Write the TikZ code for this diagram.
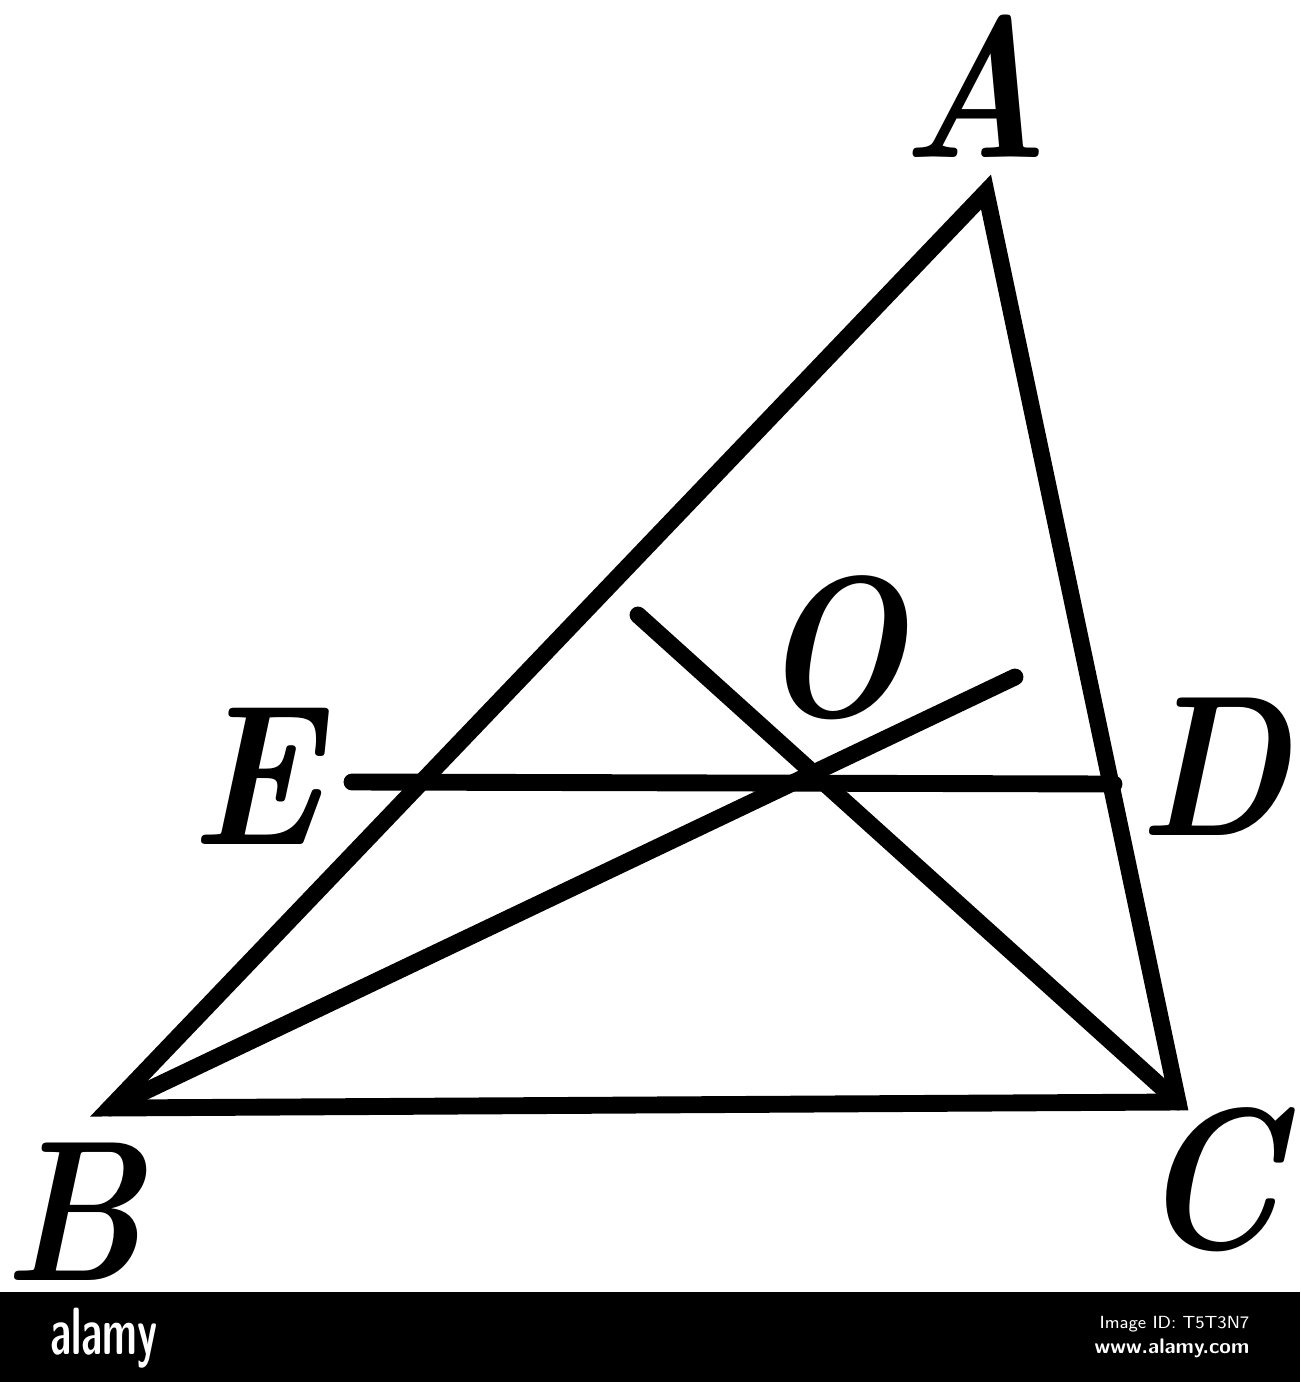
\documentclass[tikz,border=0pt]{standalone}
\usepackage{fontspec}
\usepackage{tikz}
\usetikzlibrary{positioning}

\begin{document}
\begin{tikzpicture}[
    x=0.01cm, y=-0.01cm,
    edge/.style={line width=4.8pt, line join=miter, line cap=round},
    vlabel/.style={inner sep=0pt, xscale=0.86, font=\fontsize{57}{60}\selectfont\bfseries\itshape},
    wmtext/.style={inner sep=0pt, text=white}
]
    \useasboundingbox (0,0) rectangle (1300,1382);
    \coordinate (ptA) at (986,192);
    \coordinate (ptB) at (110,1108);
    \coordinate (ptC) at (1178,1102);
    \coordinate (ptE) at (352,782);
    \coordinate (ptD) at (1114,784);
    \coordinate (endB) at (1015,677);
    \coordinate (endC) at (638,615);

    \draw[edge] (ptA) -- (ptB) -- (ptC) -- cycle;
    \draw[edge] (ptE) -- (ptD);
    \draw[edge] (ptB) -- (endB);
    \draw[edge] (ptC) -- (endC);

    \node[vlabel] (labA) at (975,86) {A};
    \node[vlabel] (labE) at (256,776) {E};
    \node[vlabel] (labD) at (1214,767) {D};
    \node[vlabel] (labO) at (832,648) {O};
    \node[vlabel] (labB) at (74,1212) {B};
    \node[vlabel] (labC) at (1210,1180) {C};

    \fill[black] (0,1292) rectangle (1300,1382);
    \node[wmtext, anchor=west, font=\sffamily\bfseries\fontsize{19}{20}\selectfont, xscale=0.6] (logo) at (50,1338) {alamy};
    \node[wmtext, anchor=east, font=\sffamily\fontsize{5}{6}\selectfont] (imgid) at (1250,1324) {Image ID: T5T3N7};
    \node[wmtext, anchor=east, font=\sffamily\bfseries\fontsize{6}{7}\selectfont] (site) at (1250,1348) {www.alamy.com};
\end{tikzpicture}
\end{document}
